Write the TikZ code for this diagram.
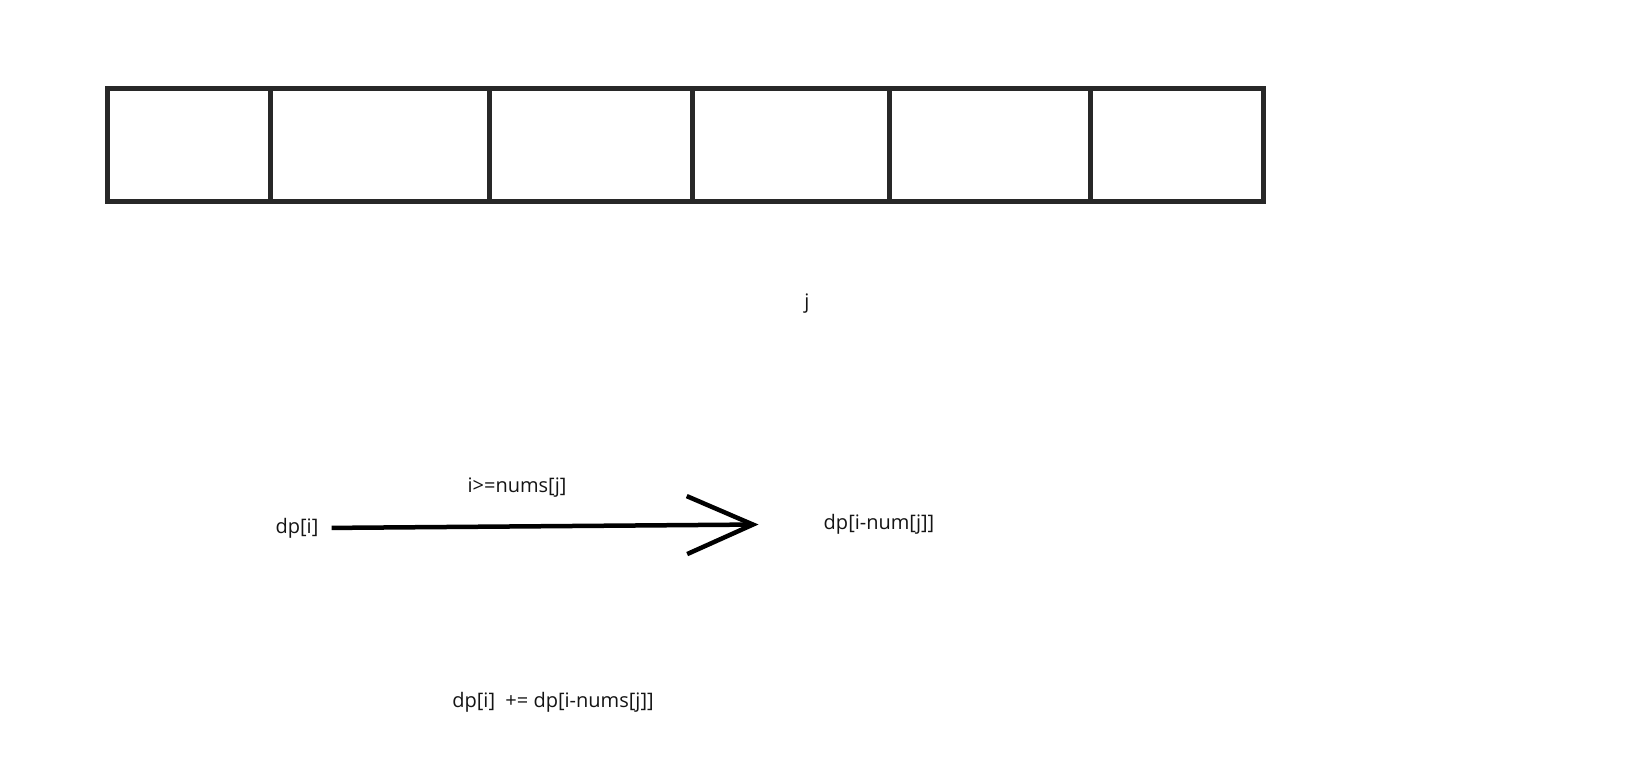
\documentclass[tikz,border=0pt]{standalone}
\usepackage{fontspec}
\setmainfont{Open Sans}
\usetikzlibrary{arrows.meta, positioning}
\definecolor{ink}{RGB}{20,20,20}
\definecolor{cellLine}{RGB}{40,40,40}
\tikzset{
  cell/.style={
    draw=cellLine,
    line width=4.5pt,
    anchor=north west,
    minimum height=113pt,
    inner sep=0pt
  },
  txt/.style={
    font=\fontsize{20}{23}\selectfont,
    text=ink,
    inner sep=1pt
  },
  reach/.style={-{Straight Barb[length=66pt,width=58pt,line width=4.5pt]}, line width=4.5pt, draw=black}
}
\begin{document}
\begin{tikzpicture}[x=1pt, y=-1pt]
  \useasboundingbox (0,0) rectangle (1637,774);

  % the array
  \node[cell, minimum width=163pt] (c1) at (105,86) {};
  \node[cell, minimum width=219pt] (c2) at (268,86) {};
  \node[cell, minimum width=203pt] (c3) at (487,86) {};
  \node[cell, minimum width=197pt] (c4) at (690,86) {};
  \node[cell, minimum width=201pt] (c5) at (887,86) {};
  \node[cell, minimum width=173pt] (c6) at (1088,86) {};

  \node[txt] (jmark) at (807,304) {j};

  % transition
  \node[txt] (dp) at (297,528) {dp[i]};
  \node[txt] (dpnum) at (879,524) {dp[i-num[j]]};
  \node[txt] (cond) at (517,488) {i>=nums[j]};
  \node[txt] (rule) at (553,702) {dp[i]\ \ += dp[i-nums[j]]};

  \draw[reach, shorten <=12pt, shorten >=64pt] (dp.east) -- (dpnum.west);
\end{tikzpicture}
\end{document}
